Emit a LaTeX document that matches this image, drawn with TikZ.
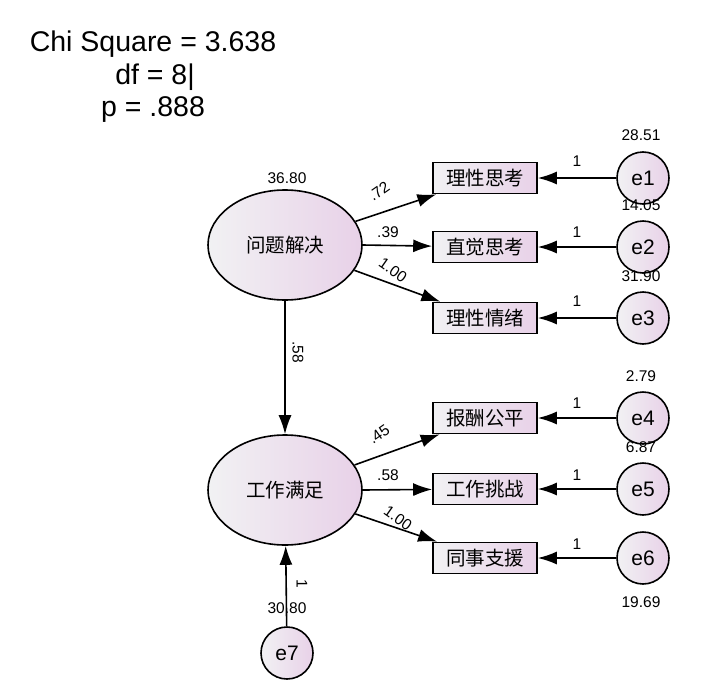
\documentclass[tikz,border=0pt]{standalone}
\usepackage{fontspec}
\setmainfont{Liberation Sans}
\newfontfamily\cjk{Noto Sans CJK SC}
\usetikzlibrary{arrows.meta,shapes.geometric}
\begin{document}
\begin{tikzpicture}[x=1pt,y=-1pt,
 fillc/.style={left color=blue!8!gray!10!white,right color=violet!18!white},
 lat/.style={ellipse,draw,line width=1.6pt,fillc,minimum width=154pt,minimum height=110pt,font=\cjk\fontsize{19.5}{22}\selectfont},
 obs/.style={rectangle,draw,line width=1.6pt,fillc,minimum width=104pt,minimum height=31pt,inner sep=0pt,font=\cjk\fontsize{19.5}{22}\selectfont},
 err/.style={circle,draw,line width=1.6pt,fillc,minimum size=52pt,inner sep=0pt,font=\fontsize{21}{24}\selectfont},
 sm/.style={font=\fontsize{15.5}{18}\selectfont},
 arr/.style={line width=1.6pt,-{Latex[length=19pt,width=13pt]}}]
\useasboundingbox (0,0) rectangle (720,688);
\node[font=\fontsize{28.5}{32}\selectfont] (t1) at (153,44) {Chi Square = 3.638};
\node[font=\fontsize{28.5}{32}\selectfont] (t2) at (155,77) {df = 8|};
\node[font=\fontsize{28.5}{32}\selectfont] (t3) at (153,110) {p = .888};
\node[lat] (L1) at (285,245) {问题解决};
\node[lat] (L2) at (285,490) {工作满足};
\node[obs] (o1) at (485,178) {理性思考};
\node[obs] (o2) at (485,247) {直觉思考};
\node[obs] (o3) at (485,318) {理性情绪};
\node[obs] (o4) at (485,418) {报酬公平};
\node[obs] (o5) at (485,489) {工作挑战};
\node[obs] (o6) at (485,558) {同事支援};
\node[err] (e1) at (643,178) {e1};
\node[err] (e2) at (643,247) {e2};
\node[err] (e3) at (643,318) {e3};
\node[err] (e4) at (643,418) {e4};
\node[err] (e5) at (643,489) {e5};
\node[err] (e6) at (643,558) {e6};
\node[err] (e7) at (287,653) {e7};
\node[sm] (v1) at (641,135) {28.51};
\node[sm] (v2) at (641,205) {14.05};
\node[sm] (v3) at (641,276) {31.90};
\node[sm] (v4) at (641,376) {2.79};
\node[sm] (v5) at (641,447) {6.87};
\node[sm] (v6) at (641,602) {19.69};
\node[sm] (v7) at (287,608) {30.80};
\node[sm] (vL) at (287,178) {36.80};
\draw[arr] (L1) -- (o1);
\draw[arr] (L1.east) -- (o2);
\draw[arr] (L1) -- (o3);
\draw[arr] (L2) -- (o4);
\draw[arr] (L2.east) -- (o5);
\draw[arr] (L2) -- (o6);
\draw[arr] (L1) -- (L2);
\foreach \i in {1,...,6}{\draw[arr] (e\i) -- (o\i);}
\draw[arr] (e7) -- (L2);
\node[sm,rotate=35] (p1) at (379,191) {.72};
\node[sm] (p2) at (388,232) {.39};
\node[sm,rotate=-35] (p3) at (393,270) {1.00};
\node[sm,rotate=-90] (p4) at (298,352) {.58};
\node[sm,rotate=35] (p5) at (379,434) {.45};
\node[sm] (p6) at (388,475) {.58};
\node[sm,rotate=-35] (p7) at (398,518) {1.00};
\node[sm] (w1) at (577,161) {1};
\node[sm] (w2) at (577,232) {1};
\node[sm] (w3) at (577,301) {1};
\node[sm] (w4) at (577,403) {1};
\node[sm] (w5) at (577,475) {1};
\node[sm] (w6) at (577,544) {1};
\node[sm,rotate=-90] (w7) at (302,584) {1};
\end{tikzpicture}
\end{document}
